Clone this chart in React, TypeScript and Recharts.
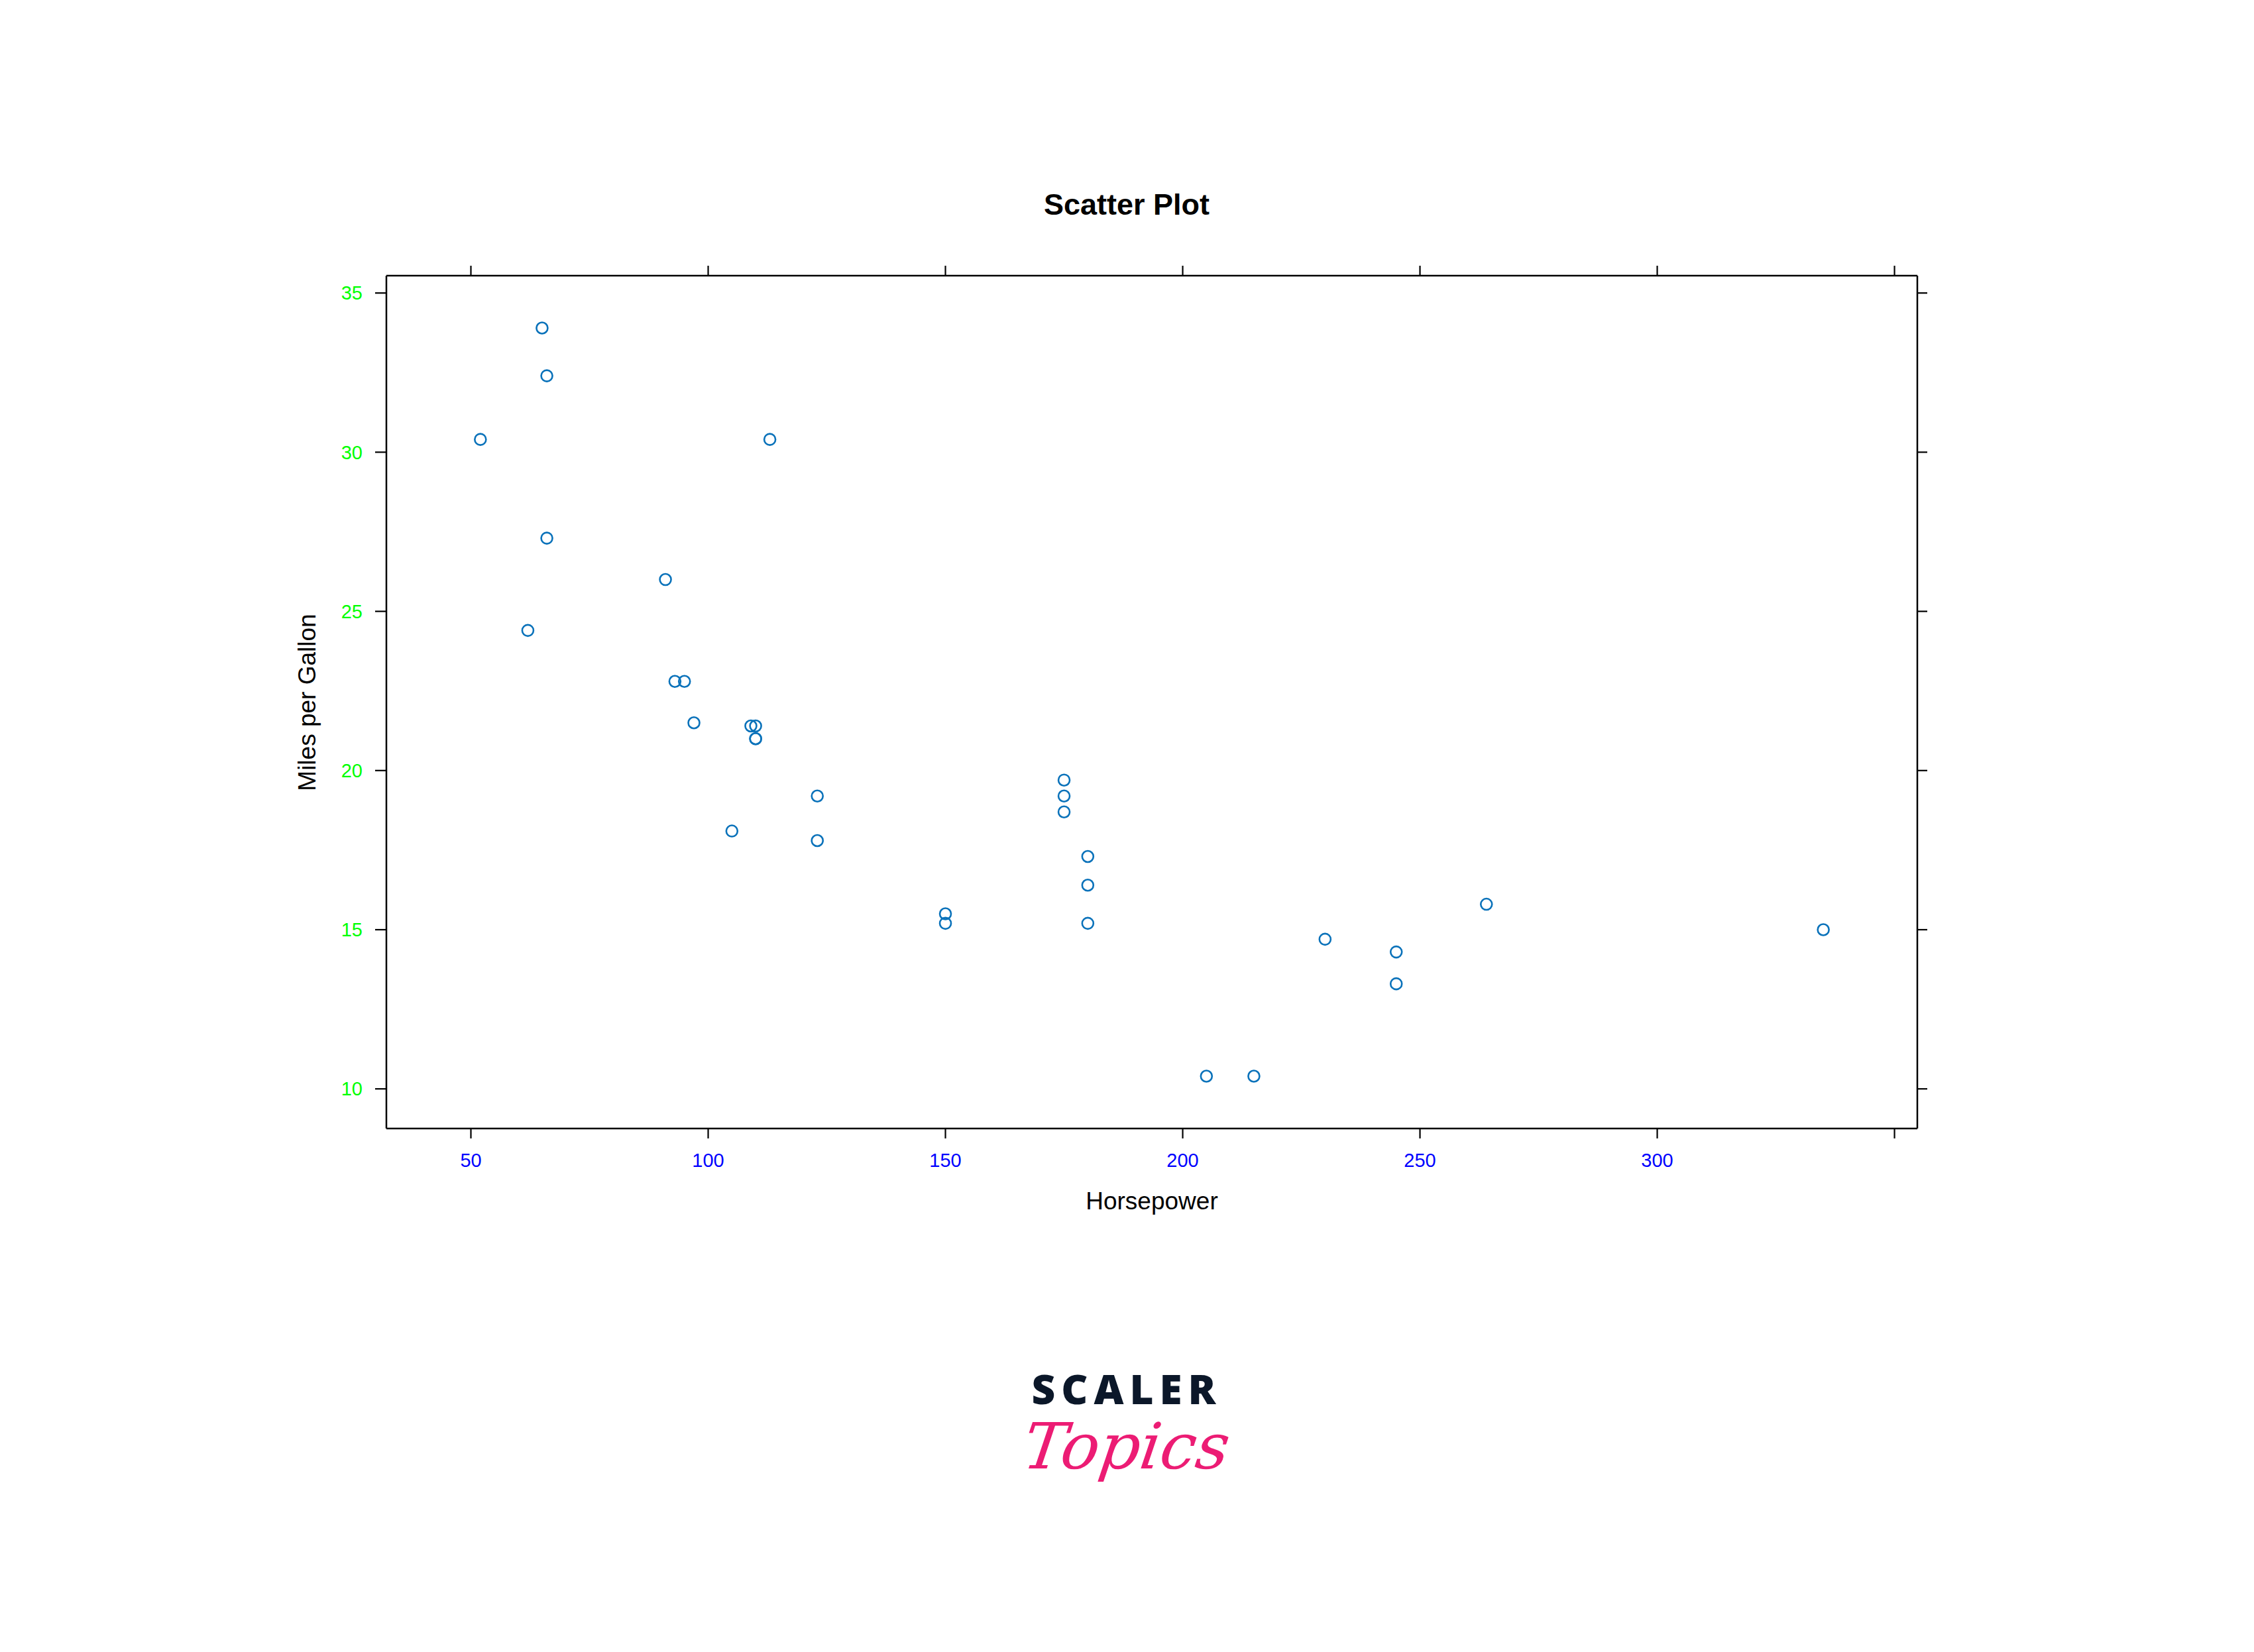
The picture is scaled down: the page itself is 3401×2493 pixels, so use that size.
import React from 'react';
import { ScatterChart, Scatter, XAxis, YAxis } from 'recharts';

// mtcars: horsepower vs miles per gallon
const HORSEPOWER = [110, 110, 93, 110, 175, 105, 245, 62, 95, 123, 123, 180, 180, 180, 205, 215, 230, 66, 52, 65, 97, 150, 150, 245, 175, 66, 91, 113, 264, 175, 335, 109];
const MPG = [21.0, 21.0, 22.8, 21.4, 18.7, 18.1, 14.3, 24.4, 22.8, 19.2, 17.8, 16.4, 17.3, 15.2, 10.4, 10.4, 14.7, 32.4, 30.4, 33.9, 21.5, 15.5, 15.2, 13.3, 19.2, 27.3, 26.0, 30.4, 15.8, 19.7, 15.0, 21.4];
const X_TICKS = [50, 100, 150, 200, 250, 300, 350];
const X_LABELED = [50, 100, 150, 200, 250, 300];
const Y_TICKS = [10, 15, 20, 25, 30, 35];

const points = HORSEPOWER.map((hp, i) => ({ hp, mpg: MPG[i] }));

const X_DOMAIN: [number, number] = [32.19, 354.81];
const Y_DOMAIN: [number, number] = [8.755, 35.545];

const FONT = '"Liberation Sans", Arial, Helvetica, sans-serif';
const POINT_COLOR = '#0a72ba';

const Ring = (p: any) => (
  <circle cx={p.cx} cy={p.cy} r={8.5} fill="none" stroke={POINT_COLOR} strokeWidth={2.6} />
);

const NoLabel = () => <g />;

const App: React.FC = () => {
  const axisLine = { stroke: '#000', strokeWidth: 2.5 };
  const tickLine = { stroke: '#000', strokeWidth: 2.2 };
  return (
    <div style={{ position: 'absolute', left: 0, top: 0, width: 3401, height: 2493, background: '#fff', fontFamily: FONT }}>
      {/* title */}
      <div style={{ position: 'absolute', left: 1200, width: 1000, top: 283, textAlign: 'center', fontSize: 45, fontWeight: 'bold', color: '#000' }}>
        Scatter Plot
      </div>

      <ScatterChart width={3401} height={2493} margin={{ top: 376, right: 468, bottom: 710, left: 463 }}>
        <XAxis
          xAxisId="bottom"
          type="number"
          dataKey="hp"
          orientation="bottom"
          domain={X_DOMAIN}
          ticks={X_TICKS}
          interval={0}
          allowDataOverflow
          height={80}
          axisLine={axisLine}
          tickLine={tickLine}
          tickSize={15}
          tickMargin={22}
          tickFormatter={(v: number) => (X_LABELED.includes(v) ? String(v) : '')}
          tick={{ fill: '#0000ff', fontSize: 29, fontFamily: FONT }}
        />
        <XAxis
          xAxisId="top"
          type="number"
          dataKey="hp"
          orientation="top"
          domain={X_DOMAIN}
          ticks={X_TICKS}
          interval={0}
          allowDataOverflow
          height={40}
          axisLine={axisLine}
          tickLine={tickLine}
          tickSize={15}
          tick={NoLabel}
        />
        <YAxis
          yAxisId="left"
          type="number"
          dataKey="mpg"
          orientation="left"
          domain={Y_DOMAIN}
          ticks={Y_TICKS}
          interval={0}
          allowDataOverflow
          width={120}
          axisLine={axisLine}
          tickLine={tickLine}
          tickSize={17}
          tickMargin={19}
          tick={{ fill: '#00ff00', fontSize: 29, fontFamily: FONT }}
        />
        <YAxis
          yAxisId="right"
          type="number"
          dataKey="mpg"
          orientation="right"
          domain={Y_DOMAIN}
          ticks={Y_TICKS}
          interval={0}
          allowDataOverflow
          width={40}
          axisLine={axisLine}
          tickLine={tickLine}
          tickSize={15}
          tick={NoLabel}
        />
        <Scatter
          data={points}
          xAxisId="bottom"
          yAxisId="left"
          shape={Ring}
          isAnimationActive={false}
        />
      </ScatterChart>

      {/* axis titles */}
      <div style={{ position: 'absolute', left: 583, width: 2310, top: 1792, textAlign: 'center', fontSize: 37, color: '#000' }}>
        Horsepower
      </div>
      <div
        style={{
          position: 'absolute', left: 464, top: 1060, fontSize: 37, color: '#000', whiteSpace: 'nowrap',
          transform: 'translate(-50%, -50%) rotate(-90deg)',
        }}
      >
        Miles per Gallon
      </div>

      {/* logo */}
      <div style={{ position: 'absolute', left: 1400, width: 600, top: 2064, textAlign: 'center', fontFamily: '"Open Sans", "DejaVu Sans", sans-serif', fontWeight: 800, fontSize: 62, letterSpacing: 9, color: '#0b1729', lineHeight: 1 }}>
        SCALER
      </div>
      <div style={{ position: 'absolute', left: 1400, width: 600, top: 2135, textAlign: 'center', fontFamily: '"DejaVu Serif", "Liberation Serif", serif', fontStyle: 'italic', fontSize: 96, color: '#ec1c74', lineHeight: 1, transform: 'skewX(-8deg)' }}>
        Topics
      </div>
    </div>
  );
};

export default App;
